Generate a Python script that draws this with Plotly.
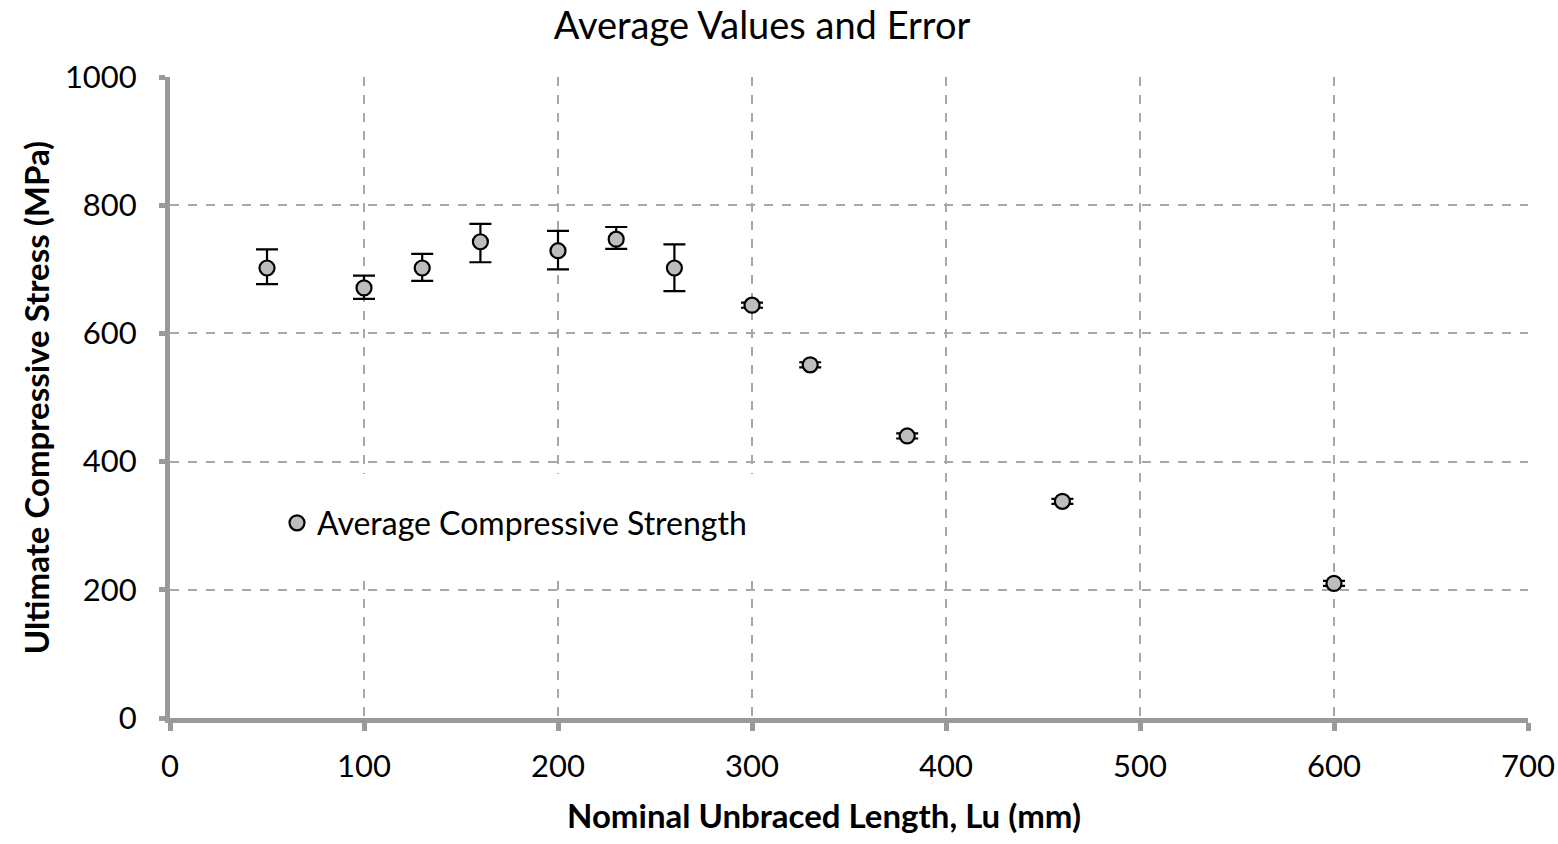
import plotly.graph_objects as go

# nominal unbraced length (mm)
lengths = [50, 100, 130, 160, 200, 230, 260, 300, 330, 380, 460, 600]

# average ultimate compressive stress (MPa)
stress = [702, 671, 702, 743, 729, 747, 702, 644, 551, 440, 338, 210]

# error bar extents (MPa)
err_up = [29, 19, 22, 28, 31, 19, 37, 4, 4, 4, 4, 4]
err_down = [25, 17, 20, 32, 29, 15, 36, 4, 4, 4, 4, 4]

x_ticks = [0, 100, 200, 300, 400, 500, 600, 700]
y_ticks = [0, 200, 400, 600, 800, 1000]

FONT = "Lato"
AXIS_GREY = "#9a9a9a"
GRID_GREY = "#a8a8a8"

W, H = 1558, 844
L, R, T, B = 170, 30, 77, 126
LEG_PAD = 22  # white border around the legend, hides the grid behind it

fig = go.Figure()

fig.add_trace(
    go.Scatter(
        x=lengths,
        y=stress,
        mode="markers",
        name="Average Compressive Strength",
        marker=dict(
            size=15,
            color="#bdbdbd",
            line=dict(color="black", width=2.2)
        ),
        error_y=dict(
            type="data",
            symmetric=False,
            array=err_up,
            arrayminus=err_down,
            color="black",
            thickness=2.2,
            width=11
        )
    )
)

fig.update_layout(
    width=W,
    height=H,
    plot_bgcolor="white",
    paper_bgcolor="white",
    font=dict(family=FONT, size=31, color="black"),
    margin=dict(l=L, r=R, t=T, b=B, autoexpand=False),
    title=dict(
        text="Average Values and Error",
        x=762 / W,
        xanchor="center",
        y=1 - 26 / H,
        yanchor="middle",
        font=dict(family=FONT, size=38, color="black")
    ),
    showlegend=True,
    legend=dict(
        x=(277 - LEG_PAD - L) / (W - L - R),
        y=(718 - 523) / (H - T - B),
        xanchor="left",
        yanchor="middle",
        bgcolor="white",
        bordercolor="white",
        borderwidth=LEG_PAD,
        font=dict(family=FONT, size=32, color="black")
    ),
    xaxis=dict(
        range=[0, 700],
        tickvals=x_ticks,
        showgrid=True,
        gridcolor=GRID_GREY,
        griddash="dash",
        gridwidth=1.5,
        zeroline=False,
        showline=True,
        linecolor=AXIS_GREY,
        linewidth=5,
        ticks="outside",
        ticklen=8,
        tickwidth=5,
        tickcolor=AXIS_GREY,
        ticklabelstandoff=9,
        automargin=False
    ),
    yaxis=dict(
        range=[0, 1000],
        tickvals=y_ticks,
        showgrid=True,
        gridcolor=GRID_GREY,
        griddash="dash",
        gridwidth=1.5,
        zeroline=False,
        showline=True,
        linecolor=AXIS_GREY,
        linewidth=5,
        ticks="outside",
        ticklen=6,
        tickwidth=5,
        tickcolor=AXIS_GREY,
        ticklabelstandoff=16,
        automargin=False,
        title=dict(
            text="<b>Ultimate Compressive Stress (MPa)</b>",
            font=dict(size=33),
            standoff=7
        )
    ),
    annotations=[
        dict(
            text="<b>Nominal Unbraced Length, Lu (mm)</b>",
            xref="paper",
            yref="paper",
            x=(824 - L) / (W - L - R),
            y=(718 - 815) / (H - T - B),
            xanchor="center",
            yanchor="middle",
            showarrow=False,
            font=dict(size=33)
        )
    ]
)

# the page is photographed at the window origin, so drop the body margin
fig.write_html(
    "out.html",
    config={"displayModeBar": False},
    post_script="document.body.style.margin='0';"
)
